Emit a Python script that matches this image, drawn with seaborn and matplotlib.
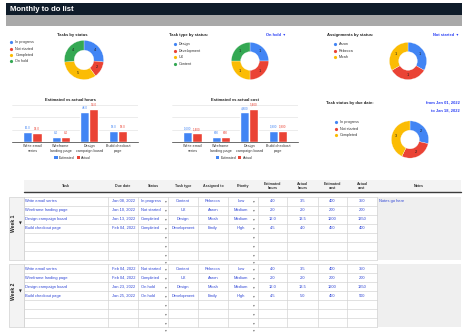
import matplotlib
matplotlib.use("Agg")
import matplotlib.pyplot as plt
import seaborn as sns
import pandas as pd
import numpy as np
from matplotlib.patches import Rectangle

sns.set_style("white")
plt.rcParams['font.family'] = ['Liberation Sans', 'DejaVu Sans']

W, H = 474, 334
BLUE, RED, YELLOW, GREEN = "#4285f4", "#ea4335", "#fbbc04", "#34a853"
TXT_BLUE = "#2f46d6"
LINK_BLUE = "#2a3ff5"
DARK = "#222222"

# ---------------- data ----------------
status_labels = ["In progress", "Not started", "Completed", "On hold"]
status_counts = [4, 2, 5, 4]
type_labels = ["Design", "Development", "UX", "Content"]
type_counts = [1, 1, 1, 1]
assign_labels = ["Aaron", "Rebecca", "Micah"]
assign_counts = [1, 1, 1]
due_labels = ["In progress", "Not started", "Completed"]
due_counts = [2, 2, 3]

bar_tasks = ["Write email\nseries", "Wireframe\nlanding page", "Design\ncampaign board", "Build checkout\npage"]
est_hours = [16.0, 8.0, 48.0, 18.0]
act_hours = [14.0, 8.0, 54.0, 18.0]
est_cost = [1600, 800, 4800, 1800]
act_cost = [1400, 800, 5400, 1800]

headers = ["Task", "Due date", "Status", "Task type", "Assigned to", "Priority",
           "Estimated\nhours", "Actual\nhours", "Estimated\ncost", "Actual\ncost", "Notes"]
table_tasks = ["Write email series", "Wireframe landing page", "Design campaign board", "Build checkout page"]
table_types = ["Content", "UX", "Design", "Development"]
table_people = ["Rebecca", "Aaron", "Micah", "Emily"]
table_priority = ["Low", "Medium", "Medium", "High"]

w1_due = ["Jan 08, 2022", "Jan 10, 2022", "Jan 13, 2022", "Feb 04, 2022"]
w1_status = ["In progress", "Not started", "Completed", "Completed"]
w1_est_h = ["4.0", "2.0", "12.0", "4.5"]
w1_act_h = ["3.5", "2.0", "13.5", "4.0"]
w1_est_c = ["400", "200", "1200", "450"]
w1_act_c = ["350", "200", "1350", "400"]

w2_due = ["Feb 04, 2022", "Feb 04, 2022", "Jan 23, 2022", "Jan 25, 2022"]
w2_status = ["Not started", "Completed", "On hold", "On hold"]
w2_est_h = ["4.0", "2.0", "12.0", "4.5"]
w2_act_h = ["3.5", "2.0", "13.5", "5.0"]
w2_est_c = ["400", "200", "1200", "450"]
w2_act_c = ["350", "200", "1350", "500"]

# ---------------- figure ----------------
fig = plt.figure(figsize=(4.74, 3.34), dpi=100)
fig.patch.set_facecolor("white")
bg = fig.add_axes([0, 0, 1, 1])
bg.set_xlim(0, W)
bg.set_ylim(H, 0)
bg.axis("off")


def R(x0, y0, x1, y1):
    return [x0 / W, 1 - y1 / H, (x1 - x0) / W, (y1 - y0) / H]


def txt(x, y, s, size=2.9, color=DARK, weight="normal", ha="left", va="center", **kw):
    bg.text(x, y, s, fontsize=size, color=color, fontweight=weight, ha=ha, va=va, **kw)


# title bar
bg.add_patch(Rectangle((6, 3), 456, 12, fc="#0f1c2a", ec="none"))
bg.add_patch(Rectangle((6, 15), 456, 11, fc="#a9a9a9", ec="none"))
txt(10, 9.2, "Monthly to do list", size=5.6, color="white", weight="bold")


def donut(cx, cy, r, counts, colors):
    ax = fig.add_axes(R(cx - r, cy - r, cx + r, cy + r))
    total = sum(counts)
    ax.pie(counts, colors=colors, startangle=90, counterclock=False, radius=1,
           wedgeprops=dict(width=0.5, edgecolor="white", linewidth=0.2),
           autopct=lambda p: f"{round(p * total / 100)}", pctdistance=0.75,
           textprops=dict(fontsize=2.8, color=DARK))
    ax.set_xlim(-1.02, 1.02)
    ax.set_ylim(-1.02, 1.02)
    ax.set_aspect("equal")
    ax.axis("off")


def legend(x, ys, labels, colors):
    for y, lab, c in zip(ys, labels, colors):
        bg.plot([x], [y], marker="o", ms=2.3, color=c, mew=0)
        txt(x + 4, y, lab, size=2.7, color="#333333")


pal4 = [BLUE, RED, YELLOW, GREEN]

# donut 1
txt(72, 34.7, "Tasks by status", size=3.0, weight="bold", ha="center")
legend(11.5, [42, 48.5, 55, 61.3], status_labels, pal4)
donut(84, 60, 20, status_counts, pal4)

# donut 2
txt(169, 35, "Task type by status:", size=3.0, weight="bold")
txt(266, 35, "On hold  ▾", size=2.9, weight="bold", color=LINK_BLUE)
legend(174.7, [44.3, 50.7, 57.3, 63.7], type_labels, pal4)
donut(250, 61, 19, type_counts, pal4)

# donut 3
txt(326.7, 35.3, "Assignments by status:", size=3.0, weight="bold")
txt(433.3, 35.3, "Not started  ▾", size=2.9, weight="bold", color=LINK_BLUE)
legend(335, [44.3, 50.7, 57.3], assign_labels, pal4[:3])
donut(408, 61, 19, assign_counts, pal4[:3])

# donut 4
txt(326, 102.7, "Task status by due date:", size=3.0, weight="bold")
txt(460, 102.7, "from Jan 01, 2022", size=2.9, weight="bold", color=LINK_BLUE, ha="right")
txt(460, 110, "to Jan 18, 2022", size=2.9, weight="bold", color=LINK_BLUE, ha="right")
legend(336, [122.3, 128.7, 135], due_labels, pal4[:3])
donut(410, 139.5, 19, due_counts, pal4[:3])


def bars(x0, x1, est, act, fmt, ymax, title, cx, lx):
    ax = fig.add_axes(R(x0, 105, x1, 142))
    df = pd.DataFrame({"task": bar_tasks * 2, "value": list(est) + list(act),
                       "kind": ["Estimated"] * 4 + ["Actual"] * 4})
    sns.barplot(data=df, x="task", y="value", hue="kind", palette=[BLUE, RED],
                width=0.64, ax=ax, legend=False, saturation=1, errorbar=None)
    ax.set_ylim(0, ymax)
    ax.set_yticks(np.linspace(0, ymax, 4))
    ax.set_yticklabels([])
    ax.grid(axis="y", color="#dddddd", lw=0.4)
    ax.set_axisbelow(True)
    for s in ["top", "right", "left"]:
        ax.spines[s].set_visible(False)
    ax.spines["bottom"].set_color("#333333")
    ax.spines["bottom"].set_linewidth(0.5)
    ax.tick_params(length=0, labelsize=2.7, pad=1.5, colors="#333333")
    ax.set_xlabel("")
    ax.set_ylabel("")
    ax.set_xlim(-0.72, 3.71)
    ax.patch.set_alpha(0)
    for cont, col in zip(ax.containers, [BLUE, RED]):
        ax.bar_label(cont, labels=[fmt(v) for v in cont.datavalues], fontsize=2.2,
                     color=col, padding=1.5)
    txt(cx, 100, title, size=3.0, weight="bold", ha="center")
    bg.add_patch(Rectangle((lx - 1.6, 156.1), 3.2, 3.2, fc=BLUE, ec="none"))
    txt(lx + 3, 157.7, "Estimated", size=2.5, color="#333333")
    bg.add_patch(Rectangle((lx + 20.7, 156.1), 3.2, 3.2, fc=RED, ec="none"))
    txt(lx + 25.3, 157.7, "Actual", size=2.5, color="#333333")


bars(12, 138, est_hours, act_hours, lambda v: f"{v:.1f}", 60,
     "Estimated vs actual hours", 70, 56)
bars(172, 298, est_cost, act_cost, lambda v: f"{int(v):,}", 6000,
     "Estimated vs actual cost", 235, 217.3)

# ---------------- table ----------------
cols = [24, 108, 138, 168, 198, 228, 258, 287, 318, 347, 377, 461]
bg.add_patch(Rectangle((24, 180), 437, 12, fc="#f3f3f3", ec="none"))
for i, h in enumerate(headers):
    txt((cols[i] + cols[i + 1]) / 2, 186, h, size=2.6, weight="bold", ha="center",
        linespacing=1.0, color="#333333")
bg.plot([24, 461], [192.4, 192.4], color="#3c3c3c", lw=1.0)

ARROW = dict(size=2.6, color="#777777", ha="center", family="DejaVu Sans")


def week(top, name, due, status, eh, ah, ec, ac, note):
    rh, n = 9, 7
    bottom = top + rh * n
    bg.add_patch(Rectangle((9, top), 15, bottom - top, fc="#f3f3f3", ec="#c8c8c8", lw=0.4))
    txt(14, top + 27, name, size=3.6, weight="bold", ha="center", rotation=90)
    txt(20.2, top + 27, "▼", size=2.6, ha="center", family="DejaVu Sans")
    bg.add_patch(Rectangle((377, top), 84, bottom - top, fc="#efefef", ec="none"))
    for k in range(n + 1):
        y = top + k * rh
        bg.plot([24, 377], [y, y], color="#d4d4d4", lw=0.5)
    for x in cols[:-1]:
        bg.plot([x, x], [top, bottom], color="#d4d4d4", lw=0.5)
    for k in range(n):
        yc = top + k * rh + rh / 2
        txt(165.7, yc, "▾", **ARROW)
        txt(254.3, yc, "▾", **ARROW)
    for k in range(len(table_tasks)):
        yc = top + k * rh + rh / 2
        txt(25.5, yc, table_tasks[k], color=TXT_BLUE)
        txt(135.5, yc, due[k], color=TXT_BLUE, ha="right")
        txt(141, yc, status[k], color=TXT_BLUE)
        txt(183, yc, table_types[k], color=TXT_BLUE, ha="center")
        txt(213, yc, table_people[k], color=TXT_BLUE, ha="center")
        txt(241, yc, table_priority[k], color=TXT_BLUE, ha="center")
        txt(272.5, yc, eh[k], color=TXT_BLUE, ha="center")
        txt(302.5, yc, ah[k], color=TXT_BLUE, ha="center")
        txt(332.5, yc, ec[k], color=TXT_BLUE, ha="center")
        txt(362, yc, ac[k], color=TXT_BLUE, ha="center")
    if note:
        txt(379, top + rh / 2, note, color=TXT_BLUE)
    txt(165.7, bottom + 2.3, "▾", **ARROW)
    txt(254.3, bottom + 2.3, "▾", **ARROW)


week(196.5, "Week 1", w1_due, w1_status, w1_est_h, w1_act_h, w1_est_c, w1_act_c, "Notes go here")
week(264.3, "Week 2", w2_due, w2_status, w2_est_h, w2_act_h, w2_est_c, w2_act_c, "")

fig.savefig("out.png", dpi=100, facecolor="white")
